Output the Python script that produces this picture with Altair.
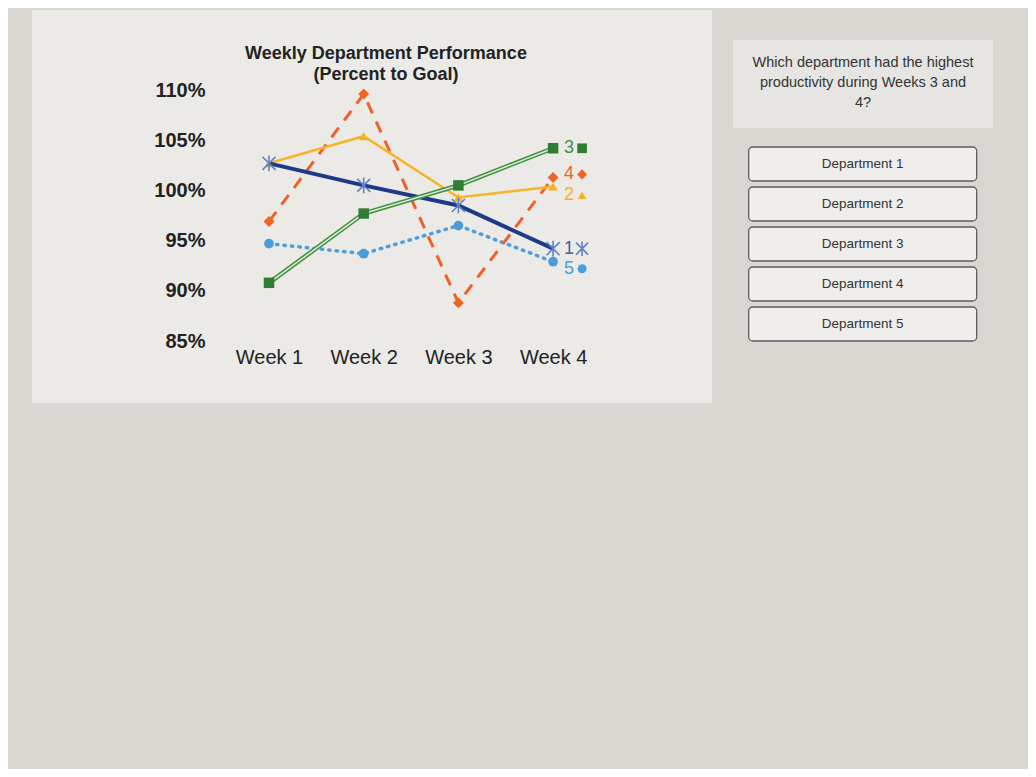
import altair as alt
import pandas as pd

# ---------------- data ----------------
weeks = ["Week 1", "Week 2", "Week 3", "Week 4"]
week_index = [1, 2, 3, 4]
departments = ["1", "2", "3", "4", "5"]

dept1 = [102.7, 100.5, 98.5, 94.2]
dept2 = [102.7, 105.4, 99.3, 100.4]
dept3 = [90.8, 97.7, 100.5, 104.2]
dept4 = [96.9, 109.6, 88.8, 101.3]
dept5 = [94.7, 93.7, 96.5, 92.9]

y_ticks = [85, 90, 95, 100, 105, 110]

title_lines = ["Weekly Department Performance", "(Percent to Goal)"]
question_lines = ["Which department had the highest", "productivity during Weeks 3 and", "4?"]
options = ["Department 1", "Department 2", "Department 3", "Department 4", "Department 5"]

series = {"1": dept1, "2": dept2, "3": dept3, "4": dept4, "5": dept5}
rows = []
for d in departments:
    for wi, wl, v in zip(week_index, weeks, series[d]):
        rows.append({"dept": d, "wk": wi, "week": wl, "value": v})
df = pd.DataFrame(rows)

FONT = "Liberation Sans"
ASTERISK = "M-1,-1L1,1M-1,1L1,-1M0,-1.2L0,1.2"

styles = {
    "5": dict(line=[dict(color="#4f9fdb", strokeWidth=3.5, strokeDash=[1.5, 6], strokeCap="round")],
              marker=dict(shape="circle", filled=True, color="#4b9cd8", size=95),
              label="#4b9cd8", ldy=7),
    "4": dict(line=[dict(color="#f0602a", strokeWidth=3, strokeDash=[12, 9])],
              marker=dict(shape="diamond", filled=True, color="#f06423", size=120),
              label="#f06423", ldy=-3),
    "2": dict(line=[dict(color="#f6b526", strokeWidth=2.5)],
              marker=dict(shape="triangle-up", filled=True, color="#f4b223", size=85),
              label="#f4b223", ldy=9),
    "1": dict(line=[dict(color="#1e3a87", strokeWidth=4)],
              marker=dict(shape=ASTERISK, filled=False, color="#5d82c6", size=170, strokeWidth=1.6),
              label="#3c5ea8", ldy=0),
    "3": dict(line=[dict(color="#3f8f3f", strokeWidth=4.5), dict(color="#dcedd5", strokeWidth=1.5)],
              marker=dict(shape="square", filled=True, color="#2f7d32", size=110),
              label="#3f8f3f", ldy=0),
}

X = alt.X(
    "wk:Q",
    scale=alt.Scale(domain=[-1.5026, 5.678], nice=False, zero=False),
    axis=alt.Axis(values=week_index, labelExpr="'Week ' + datum.value", title=None,
                  grid=False, ticks=False, domain=False, labelPadding=0, offset=-56,
                  labelFontSize=20, labelFont=FONT, labelColor="#222222", labelFlush=False),
)
Y = alt.Y(
    "value:Q",
    scale=alt.Scale(domain=[78.83, 117.97], nice=False, zero=False),
    axis=alt.Axis(values=y_ticks, labelExpr="datum.value + '%'", title=None,
                  grid=False, ticks=False, domain=False, labelPadding=0, offset=-173,
                  labelFontSize=20, labelFontWeight="bold", labelFont=FONT,
                  labelColor="#222222", labelFlush=False),
)

base = alt.Chart(df)
layers = []
for d in ["5", "4", "2", "1", "3"]:
    st = styles[d]
    sub = base.transform_filter(alt.datum.dept == d)
    for ls in st["line"]:
        layers.append(sub.mark_line(**ls).encode(x=X, y=Y))
    m = dict(st["marker"])
    layers.append(sub.mark_point(opacity=1, **m).encode(x=X, y=Y))
for d in ["5", "4", "2", "1", "3"]:
    st = styles[d]
    last = base.transform_filter((alt.datum.dept == d) & (alt.datum.wk == 4))
    layers.append(last.mark_text(dx=16, dy=st["ldy"], fontSize=18, font=FONT,
                                 color=st["label"], align="center", baseline="middle")
                  .encode(x=X, y=Y, text="dept:N"))
    m = dict(st["marker"])
    m["size"] = m["size"] * 0.85
    layers.append(last.mark_point(opacity=1, xOffset=29, yOffset=st["ldy"], **m).encode(x=X, y=Y))

left = alt.layer(*layers).properties(
    width=680, height=393,
    view=alt.ViewBackground(fill="#ebeae7", strokeWidth=0),
    title=alt.TitleParams(text=title_lines, fontSize=18, fontWeight="bold", font=FONT,
                          color="#222222", lineHeight=21, anchor="middle", dx=14, offset=-74),
)

# ---------------- question panel ----------------
spacer = alt.Chart(pd.DataFrame({"a": [0]})).mark_point(opacity=0).properties(width=260, height=12)

question = alt.Chart(pd.DataFrame({"q": [0]})).mark_text(
    text=question_lines, fontSize=14.5, lineHeight=20, color="#333333", font=FONT,
    baseline="middle", align="center", dy=-21
).properties(width=260, height=88, view=alt.ViewBackground(fill="#e6e5e2", strokeWidth=0))

opt_df = pd.DataFrame({"option": options})
OY = alt.Y("option:N", sort=options, axis=None,
           scale=alt.Scale(paddingInner=0.15, paddingOuter=0))
btn_rect = alt.Chart(opt_df).mark_rect(cornerRadius=4, fill="#efeeec", stroke="#5c5c5c",
                                       strokeWidth=1.3).encode(y=OY)
btn_text = alt.Chart(opt_df).mark_text(fontSize=13.5, color="#333333", font=FONT).encode(
    y=OY, text="option:N")
buttons = alt.layer(btn_rect, btn_text).properties(width=228, height=194)

right = alt.vconcat(spacer, question, buttons, spacing=18, center=True)

chart = alt.hconcat(left, right, spacing=21).properties(
    padding={"left": 24, "top": 2, "right": 35, "bottom": 366},
    background="#dad7d3",
).configure_view(strokeWidth=0)

chart.save("out.html", embed_options={"renderer": "svg", "actions": False})
